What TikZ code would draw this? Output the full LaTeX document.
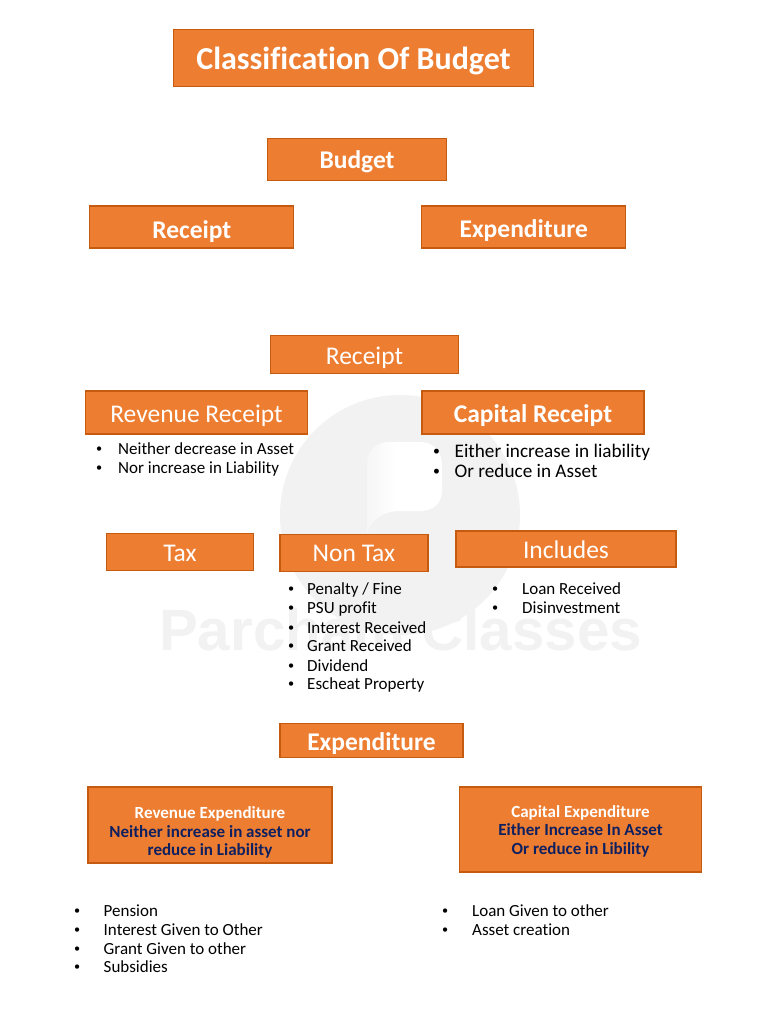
\documentclass[tikz,border=0pt]{standalone}
\usepackage{fontspec}
\setmainfont[Ligatures=NoCommon]{Carlito}
\newfontfamily\wmfont{Liberation Sans}
\definecolor{orangefill}{HTML}{ED7D31}
\definecolor{orangeedge}{HTML}{C55A11}
\definecolor{navytext}{HTML}{0F2060}
\definecolor{wmgrey}{HTML}{F2F2F2}
\tikzset{
  obox/.style={draw=orangeedge,fill=orangefill,line width=1.2pt,text=white,inner sep=0pt,align=center,anchor=center},
  wlabel/.style={font=\fontsize{#1}{#1}\selectfont,text height=19.5pt,text depth=0pt},
  blabel/.style={font=\fontsize{#1}{#1}\selectfont\bfseries,text height=19.5pt,text depth=0pt},
  mlabel/.style={font=\fontsize{17}{17}\selectfont\bfseries},
  rowitem/.style={inner sep=0pt,anchor=base west,text=black,font=\fontsize{#1}{#1}\selectfont},
}
\newcommand{\bul}[2]{\makebox[#1pt][l]{\raisebox{.1em}{\scalebox{.72}{\textbullet}}}#2}
\begin{document}
\begin{tikzpicture}[x=1pt,y=-1pt]
\useasboundingbox (0,0) rectangle (768,1024);
\fill[white] (0,0) rectangle (768,1024);
% watermark
\fill[wmgrey] (400,515) circle (120);
\fill[white] (367,465) .. controls (367,450) and (377,442) .. (390,442) -- (420,442) .. controls (434,442) and (442,452) .. (442,465) -- (442,490) .. controls (442,503) and (434,511) .. (420,511) -- (395,511) .. controls (380,513) and (369,522) .. (367,534) -- cycle;
\begin{scope}
\clip (367,465) .. controls (367,450) and (377,442) .. (390,442) -- (396,442) -- (396,511) .. controls (380,513) and (369,522) .. (367,534) -- cycle;
\shade[left color=wmgrey!70!white,right color=white] (367,440) rectangle (396,536);
\end{scope}
\node[inner sep=0pt,text=wmgrey,font=\wmfont\fontsize{58.3}{58.3}\selectfont\bfseries] (wm) at (400.5,630) {Parcham Classes};
% boxes
\node[obox,blabel=32,text height=24pt,minimum width=360,minimum height=57] (title) at (353.5,58) {Classification Of Budget};
\node[obox,blabel=25.5,text height=17.5pt,minimum width=179,minimum height=42] (budget) at (357,159.5) {Budget};
\node[obox,blabel=25.5,text height=23.5pt,minimum width=204,minimum height=42] (receipt1) at (191.8,227) {Receipt};
\node[obox,blabel=25.5,text height=21.5pt,minimum width=204,minimum height=42] (exp1) at (523.8,227) {Expenditure};
\node[obox,wlabel=25.5,minimum width=188,minimum height=38] (receipt2) at (364.5,354.5) {Receipt};
\node[obox,wlabel=25.5,minimum width=222,minimum height=43] (revrec) at (196.5,412.5) {Revenue Receipt};
\node[obox,blabel=25.5,minimum width=222,minimum height=43] (caprec) at (533,412.5) {Capital Receipt};
\node[obox,wlabel=25.5,minimum width=147,minimum height=37] (tax) at (180,552) {Tax};
\node[obox,wlabel=25.5,text height=17.5pt,minimum width=148,minimum height=37] (nontax) at (354,553) {Non Tax};
\node[obox,wlabel=25.5,minimum width=220,minimum height=36] (incl) at (566,549) {Includes};
\node[obox,blabel=25.5,minimum width=183,minimum height=34] (exp2) at (371.5,740.5) {Expenditure};
\node[obox,mlabel,minimum width=244,minimum height=76] (revexp) at (210,825) {\rule{0pt}{27pt}Revenue Expenditure\\[1.5pt]\textcolor{navytext}{Neither increase in asset nor}\\[1.5pt]\textcolor{navytext}{reduce in Liability}};
\node[obox,mlabel,minimum width=242,minimum height=85] (capexp) at (580.5,829.5) {\rule{0pt}{15pt}Capital Expenditure\\[1.5pt]\textcolor{navytext}{Either Increase In Asset}\\[1.5pt]\textcolor{navytext}{Or reduce in Libility}};
% lists
\node[rowitem=17] (a1) at (96,454) {\bul{22}{Neither decrease in Asset}};
\node[rowitem=17] (a2) at (96,473) {\bul{22}{Nor increase in Liability}};
\node[rowitem=19.2] (b1) at (433,457) {\bul{21.5}{Either increase in liability}};
\node[rowitem=19.2] (b2) at (433,477) {\bul{21.5}{Or reduce in Asset}};
\node[rowitem=17] (c1) at (288,594) {\bul{19}{Penalty / Fine}};
\node[rowitem=17] (c2) at (288,613) {\bul{19}{PSU profit}};
\node[rowitem=17] (c3) at (288,633) {\bul{19}{Interest Received}};
\node[rowitem=17] (c4) at (288,651) {\bul{19}{Grant Received}};
\node[rowitem=17] (c5) at (288,671) {\bul{19}{Dividend}};
\node[rowitem=17] (c6) at (288,689) {\bul{19}{Escheat Property}};
\node[rowitem=17] (d1) at (492,594) {\bul{30}{Loan Received}};
\node[rowitem=17] (d2) at (492,613) {\bul{30}{Disinvestment}};
\node[rowitem=17] (e1) at (74,916) {\bul{29.5}{Pension}};
\node[rowitem=17] (e2) at (74,935) {\bul{29.5}{Interest Given to Other}};
\node[rowitem=17] (e3) at (74,954) {\bul{29.5}{Grant Given to other}};
\node[rowitem=17] (e4) at (74,972) {\bul{29.5}{Subsidies}};
\node[rowitem=17] (f1) at (442,916) {\bul{30}{Loan Given to other}};
\node[rowitem=17] (f2) at (442,935) {\bul{30}{Asset creation}};
\end{tikzpicture}
\end{document}
